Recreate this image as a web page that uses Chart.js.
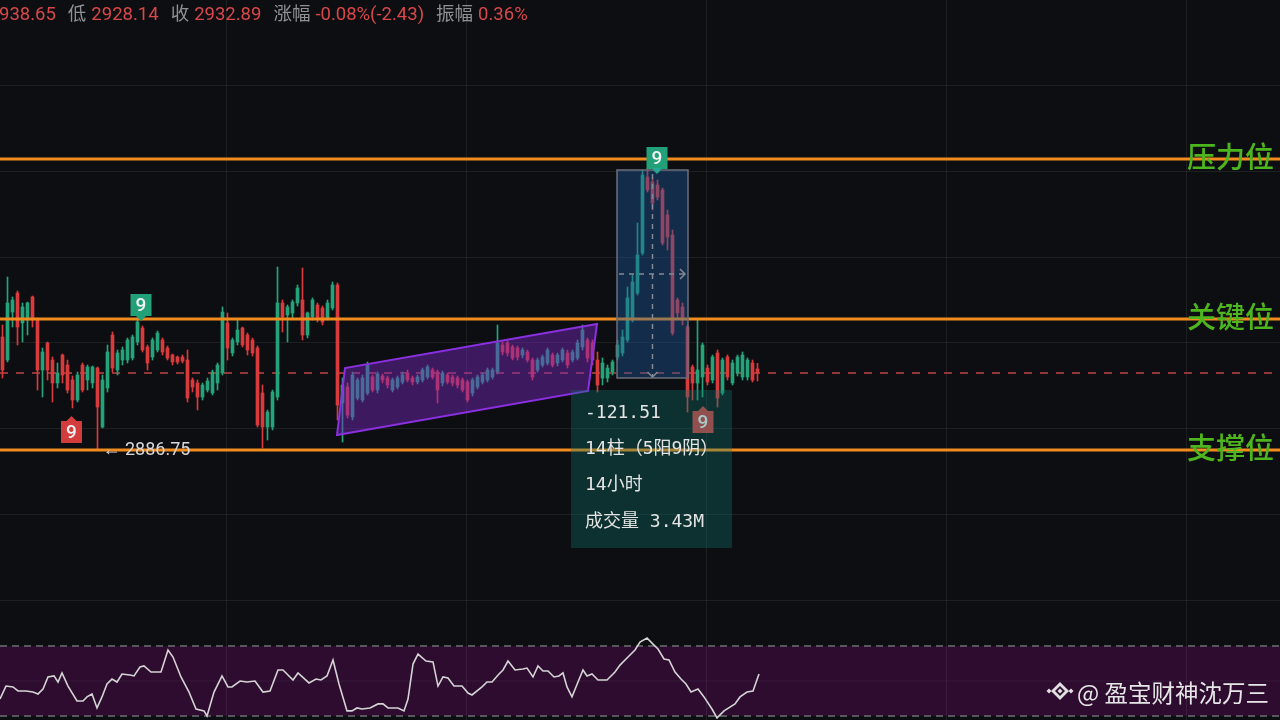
<!DOCTYPE html>
<html>
<head>
<meta charset="utf-8">
<script src="https://cdn.jsdelivr.net/npm/chart.js@4.4.1/dist/chart.umd.min.js"></script>
<style>
html,body{margin:0;padding:0;background:#0d0e11;overflow:hidden}
#wrap{position:relative;width:1280px;height:720px}
#main{position:absolute;left:0;top:0}
#rsi{position:absolute;left:0;top:605px}
</style>
</head>
<body>
<div id="wrap">
  <canvas id="main" width="1280" height="605"></canvas>
  <canvas id="rsi" width="1280" height="115"></canvas>
</div>
<script>
// hourly candles
const opens = [2954.5,2940.7,2969.5,2980.9,2962.9,2964.7,2978.5,2964.7,2934.7,2950.9,
  2940.7,2926.9,2943.7,2937.7,2928.7,2916.7,2937.7,2928.7,2926.9,2935.9,
  2900.5,2923.9,2955.7,2934.7,2940.7,2940.7,2941.9,2951.5,2959.9,2948.5,
  2942.5,2946.7,2952.7,2947.9,2943.7,2942.5,2942.5,2940.7,2928.7,2926.9,
  2918.5,2922.7,2920.9,2926.9,2932.9,2962.9,2944.9,2951.5,2959.9,2955.7,
  2952.7,2947.9,2920.9,2900.5,2900.5,2918.5,2974.9,2967.7,2968.9,2974.9,
  2976.7,2955.7,2966.5,2973.7,2971.9,2965.9,2971.9,2985.7,2914.9,2924.5,
  2906.5,2917.9,2916.7,2920.9,2930.5,2922.7,2931.1,2929.9,2922.7,2924.5,
  2927.5,2932.9,2929.9,2927.5,2928.7,2930.5,2934.7,2933.5,2926.9,2931.7,
  2930.5,2929.9,2928.7,2927.5,2920.9,2924.5,2927.5,2928.7,2930.5,2933.5,
  2949.7,2950.9,2948.5,2947.9,2943.7,2945.5,2940.7,2934.7,2937.7,2938.9,
  2943.7,2938.9,2940.7,2944.9,2940.7,2941.9,2948.5,2952.7,2950.9,2940.7,
  2929.9,2929.9,2933.5,2942.5,2944.9,2952.7,2964.7,2980.9,3004.9,3050.5,
  3047.5,3045.7,3042.7,3027.7,3015.7,2976.7,2972.5,2960.5,2936.5,2926.9,
  2930.5,2935.9,2928.7,2944.9,2920.9,2942.5,2926.9,2932.9,2930.5,2930.5,
  2938.9,2935.32];
const highs = [2961.7,2990.5,2978.5,2982.1,2974.9,2975.5,2979.1,2965.9,2947.9,2951.5,
  2942.5,2938.9,2944.3,2940.7,2931.1,2933.5,2938.9,2937.7,2937.1,2936.5,
  2931.7,2949.7,2957.5,2946.7,2948.5,2953.9,2955.7,2965.9,2961.1,2949.7,
  2953.9,2958.1,2953.9,2949.1,2944.3,2943.1,2943.7,2946.7,2929.9,2928.7,
  2926.9,2929.9,2934.7,2938.9,2972.5,2968.9,2953.9,2964.7,2960.5,2956.9,
  2953.9,2949.1,2925.7,2910.7,2922.7,2996.5,2976.7,2973.7,2976.7,2985.7,
  2995.9,2969.5,2977.9,2974.9,2973.1,2976.7,2987.5,2986.9,2929.9,2926.9,
  2933.5,2929.9,2931.7,2939.5,2931.7,2933.5,2932.3,2931.1,2929.9,2931.1,
  2933.5,2934.7,2931.1,2931.7,2935.9,2937.7,2935.9,2934.7,2934.1,2932.9,
  2931.7,2931.1,2929.9,2928.7,2929.9,2931.7,2932.9,2935.9,2935.9,2961.7,
  2951.5,2952.1,2949.7,2949.1,2947.9,2946.7,2941.9,2941.9,2943.7,2947.9,
  2944.9,2944.9,2947.9,2946.7,2946.7,2952.7,2961.7,2953.9,2952.7,2945.5,
  2941.9,2937.7,2940.7,2952.7,2958.7,2984.5,2991.7,3022.9,3054.7,3055.9,
  3049.9,3048.7,3043.9,3030.7,3018.7,2977.9,2974.9,2961.7,2937.7,2964.7,
  2950.9,2937.7,2943.7,2946.7,2941.9,2943.7,2940.7,2943.7,2945.5,2941.9,
  2940.7,2938.65];
const lows = [2929.9,2939.5,2960.5,2949.7,2951.5,2955.7,2960.5,2922.7,2918.5,2928.7,
  2915.5,2923.9,2926.9,2920.9,2911.9,2915.5,2921.5,2922.7,2923.9,2886.75,
  2899.9,2921.5,2933.5,2931.7,2937.7,2938.9,2940.7,2949.7,2945.5,2934.7,
  2940.7,2945.5,2943.7,2940.7,2937.7,2938.3,2938.9,2915.5,2921.5,2910.7,
  2916.7,2921.5,2919.7,2922.7,2931.7,2940.7,2943.1,2949.7,2948.5,2943.7,
  2943.1,2900.5,2887.9,2892.7,2898.7,2916.7,2957.5,2951.5,2965.9,2973.1,
  2952.7,2953.9,2964.7,2963.5,2961.7,2964.7,2970.7,2904.7,2891.5,2905.9,
  2904.7,2916.7,2915.5,2919.7,2921.5,2920.9,2926.9,2923.9,2921.5,2923.3,
  2926.3,2927.5,2925.7,2926.3,2927.5,2929.3,2929.3,2914.9,2925.1,2926.3,
  2925.1,2923.9,2921.5,2915.5,2919.1,2923.3,2926.3,2927.5,2929.3,2932.3,
  2943.7,2943.1,2940.7,2940.7,2941.9,2939.5,2928.7,2933.5,2936.5,2937.7,
  2936.5,2937.1,2939.5,2935.9,2939.5,2940.7,2946.7,2939.5,2937.7,2921.5,
  2925.7,2927.5,2931.7,2940.7,2943.1,2951.5,2963.5,2979.7,3003.7,3041.5,
  3030.7,3036.7,3009.7,3006.7,2955.7,2965.9,2961.7,2909.5,2916.7,2916.7,
  2918.5,2925.7,2926.9,2912.5,2919.7,2928.7,2925.7,2931.1,2928.7,2928.7,
  2927.5,2928.14];
const closes = [2934.7,2974.9,2976.7,2960.5,2972.5,2974.9,2964.7,2934.7,2945.5,2934.7,
  2926.9,2932.9,2931.7,2922.7,2916.7,2931.7,2922.7,2936.5,2936.5,2912.5,
  2928.7,2945.5,2935.9,2944.9,2946.7,2952.7,2954.5,2963.5,2946.7,2938.9,
  2952.7,2956.9,2945.5,2941.9,2939.5,2939.5,2940.1,2917.9,2924.5,2918.5,
  2925.7,2928.1,2933.5,2937.7,2969.5,2947.9,2952.7,2958.7,2949.7,2946.7,
  2944.9,2901.7,2900.5,2909.5,2921.5,2974.9,2966.5,2972.5,2975.5,2983.9,
  2955.7,2968.9,2976.7,2965.9,2963.5,2974.9,2985.7,2913.7,2925.7,2907.7,
  2931.7,2928.7,2929.9,2937.7,2922.7,2932.3,2928.7,2925.7,2928.7,2929.9,
  2931.7,2928.7,2927.5,2930.5,2934.7,2936.5,2930.5,2922.7,2932.9,2927.5,
  2926.9,2925.7,2922.7,2916.7,2928.7,2930.5,2931.7,2934.7,2934.7,2950.9,
  2945.5,2944.9,2941.9,2942.5,2946.7,2940.7,2930.5,2940.7,2942.5,2946.7,
  2937.7,2943.7,2946.7,2937.7,2945.5,2950.9,2958.7,2941.9,2940.7,2925.7,
  2938.9,2935.9,2939.5,2949.7,2954.5,2977.9,2987.5,3003.7,3051.7,3042.7,
  3034.9,3038.5,3010.9,3014.5,2956.9,2968.9,2964.7,2918.5,2926.9,2934.7,
  2949.7,2927.5,2942.5,2917.9,2940.7,2930.5,2938.9,2942.5,2943.7,2940.7,
  2928.7,2932.89];

// RSI line (bar index, value)
const rsiIdx = [-0.5,0.7,2.1,3.1,4.7,6.1,7.1,8.1,9.1,10.3,11.1,11.9,13.1,14.9,16.1,16.9,17.9,18.9,19.9,20.9,
  21.9,22.9,23.9,25.5,26.3,27.5,28.3,29.7,31.7,33.1,34.1,35.7,37.3,38.7,40.3,40.9,42.3,43.9,45.1,45.9,
  47.5,48.9,50.5,52.1,53.5,55.1,56.1,58.1,59.1,61.3,62.7,63.7,64.9,66.1,67.3,68.9,69.9,70.9,71.9,73.5,
  75.1,76.1,77.1,79.1,80.3,81.1,82.1,83.1,84.7,86.1,87.1,88.1,89.1,90.3,91.9,93.1,93.9,95.9,96.9,97.9,
  99.3,100.1,101.1,102.5,104.1,104.9,106.1,107.1,108.1,109.1,110.3,111.3,112.1,112.9,113.9,115.1,116.1,116.9,117.9,119.1,
  120.9,122.5,123.5,125.1,126.5,127.5,128.9,130.1,131.1,132.3,133.3,134.5,135.7,136.7,137.7,139.1,140.3,141.9,142.9,144.3,
  146.5,147.5,148.9,150.1,151.3];
const rsiVals = [39.7,47.1,46.6,44.3,44.3,43.7,42.6,45.4,52.3,52.9,49.4,54.6,47.1,38.6,38.6,40.9,42.6,34.6,40.9,48.3,
  51.1,49.4,54.0,53.4,52.9,58.0,58.6,55.1,55.1,67.7,63.7,52.3,43.7,34.0,32.9,30.0,43.7,52.9,46.6,46.6,
  50.0,49.4,50.0,43.7,44.3,56.3,56.3,50.6,54.6,48.9,51.1,50.6,52.9,62.0,48.3,32.9,32.9,34.6,34.0,34.6,
  36.9,36.9,34.6,34.6,32.9,39.7,59.7,65.4,61.4,60.9,47.1,52.3,51.7,47.1,47.1,43.1,42.0,46.6,49.4,49.4,
  54.0,56.3,61.4,56.3,56.9,57.4,52.3,58.6,55.7,55.7,52.3,52.9,54.6,46.6,40.9,49.4,56.3,52.9,54.0,50.6,
  50.6,55.1,59.1,63.7,67.7,72.3,74.6,71.1,68.3,62.6,62.0,55.1,51.1,48.3,43.7,45.4,40.9,34.0,28.9,32.9,
  36.9,40.9,43.7,44.3,54.0];
const rsiBands = [70, 50, 30];

const gridIdx = [44.7, 92.7, 140.7, 188.7, 236.7];
const gridPrices = [3105.4, 3054.0, 3002.4, 2950.9, 2899.5, 2848.0, 2796.5];

const levelPrices = [3061.3, 2965.3, 2886.7];
const levelNames = ['压力位', '关键位', '支撑位'];
const lastClose = 2932.89;

const channelIdx = [66.9, 68.5, 118.9, 117.1];
const channelPrices = [2895.7, 2935.9, 2962.3, 2922.1];

const measureIdx = [122.9, 137.1];
const measurePrices = [3054.7, 2929.9];
const infoIdx = [113.7, 145.9];
const infoPrices = [2922.7, 2827.9];
const infoLines = ['-121.51', '14柱（5阳9阴）', '14小时', '成交量 3.43M'];

// TD "9" markers: index, price, up(green)/down(red)
const nineIdx = [27.7, 13.8, 130.9, 140.1];
const ninePrices = [2973.7, 2897.5, 3061.9, 2903.5];
const nineUp = [true, false, true, false];

const lowIdx = 19, lowLabel = '← 2886.75';
const headerParts = ['938.65','低','2928.14','收','2932.89','涨幅','-0.08%(-2.43)','振幅','0.36%'];
const watermark = '@ 盈宝财神沈万三';

const UP = '#25a37b', DOWN = '#d93b3d', ORANGE = '#f28b1e', LABEL_GREEN = '#4db51e';
const candleColors = closes.map((c, i) => c >= opens[i] ? UP : DOWN);
const bars = closes.map((_, i) => i);

function xAxis(){
  return {type:'linear', min:-0.5, max:255.5, offset:false,
    ticks:{display:false}, border:{display:false},
    grid:{color:'rgba(255,255,255,0.07)', drawTicks:false, offset:false},
    afterBuildTicks(s){ s.ticks = gridIdx.map(v => ({value:v})); }};
}

function nineBadge(ctx, x, y, up){
  const w = 21, h = 22;
  ctx.fillStyle = up ? '#22a078' : '#d23c3c';
  ctx.beginPath();
  ctx.rect(x - w/2, y - h/2, w, h);
  if (up) {
    ctx.moveTo(x - 5, y + h/2); ctx.lineTo(x + 5, y + h/2); ctx.lineTo(x, y + h/2 + 5);
  } else {
    ctx.moveTo(x - 5, y - h/2); ctx.lineTo(x + 5, y - h/2); ctx.lineTo(x, y - h/2 - 5);
  }
  ctx.fill();
  ctx.fillStyle = '#f2f2f2';
  ctx.font = '500 19px Roboto, sans-serif';
  ctx.textAlign = 'center'; ctx.textBaseline = 'middle';
  ctx.fillText('9', x, y + 1);
}

const overlay = {
  id:'overlay',
  beforeDraw(chart){
    const c = chart.ctx;
    c.save(); c.fillStyle = '#0d0e11'; c.fillRect(0, 0, chart.width, chart.height); c.restore();
  },
  beforeDatasetsDraw(chart){
    const c = chart.ctx, y = chart.scales.y.getPixelForValue(lastClose);
    c.save();
    c.strokeStyle = '#933638'; c.lineWidth = 2; c.setLineDash([8, 8]);
    c.beginPath(); c.moveTo(0, y); c.lineTo(chart.width, y); c.stroke();
    c.restore();
  },
  afterDatasetsDraw(chart){
    const c = chart.ctx, xs = chart.scales.x, ys = chart.scales.y;
    const px = v => xs.getPixelForValue(v), py = v => ys.getPixelForValue(v);
    c.save();

    // rising channel
    c.beginPath();
    channelIdx.forEach((v, i) => { const X = px(v), Y = py(channelPrices[i]); i ? c.lineTo(X, Y) : c.moveTo(X, Y); });
    c.closePath();
    c.fillStyle = 'rgba(120,40,190,0.45)'; c.fill();
    c.strokeStyle = '#8a30e0'; c.lineWidth = 2; c.stroke();

    // key levels
    c.strokeStyle = ORANGE; c.lineWidth = 3;
    levelPrices.forEach(p => { const Y = py(p); c.beginPath(); c.moveTo(0, Y); c.lineTo(chart.width, Y); c.stroke(); });

    // measure box
    const mx0 = px(measureIdx[0]), mx1 = px(measureIdx[1]);
    const my0 = py(measurePrices[0]), my1 = py(measurePrices[1]);
    c.fillStyle = 'rgba(30,90,160,0.4)'; c.fillRect(mx0, my0, mx1 - mx0, my1 - my0);
    c.strokeStyle = '#6b6f78'; c.lineWidth = 1.5; c.strokeRect(mx0, my0, mx1 - mx0, my1 - my0);
    const mcx = (mx0 + mx1) / 2, mcy = (my0 + my1) / 2;
    c.strokeStyle = '#858993'; c.setLineDash([5, 5]);
    c.beginPath(); c.moveTo(mcx, my0 + 4); c.lineTo(mcx, my1 - 2); c.moveTo(mx0 + 2, mcy); c.lineTo(mx1 - 2, mcy); c.stroke();
    c.setLineDash([]);
    c.beginPath(); c.moveTo(mcx - 5, my1 - 6); c.lineTo(mcx, my1 - 1); c.lineTo(mcx + 5, my1 - 6);
    c.moveTo(mx1 - 8, mcy - 5); c.lineTo(mx1 - 3, mcy); c.lineTo(mx1 - 8, mcy + 5); c.stroke();

    // TD nines
    nineIdx.forEach((v, i) => nineBadge(c, px(v), py(ninePrices[i]), nineUp[i]));
    c.fillStyle = '#2aa5a0';
    c.beginPath(); const tx = px(nineIdx[2]), tY = py(measurePrices[0]);
    c.moveTo(tx - 4, tY - 2); c.lineTo(tx + 4, tY - 2); c.lineTo(tx, tY + 3); c.fill();

    // info box
    const ix0 = px(infoIdx[0]), ix1 = px(infoIdx[1]), iy0 = py(infoPrices[0]), iy1 = py(infoPrices[1]);
    c.fillStyle = 'rgba(13,122,111,0.33)'; c.fillRect(ix0, iy0, ix1 - ix0, iy1 - iy0);
    c.fillStyle = '#e4e4e4'; c.font = '18px "DejaVu Sans Mono", "Noto Sans CJK SC", monospace';
    c.textAlign = 'left'; c.textBaseline = 'middle';
    infoLines.forEach((t, i) => c.fillText(t, ix0 + 14, iy0 + 23 + i * 36.3));

    // level labels
    c.font = '500 29px "Noto Sans CJK SC", sans-serif'; c.textAlign = 'right'; c.fillStyle = LABEL_GREEN;
    levelPrices.forEach((p, i) => c.fillText(levelNames[i], 1274, py(p) - 2));

    // lowest low marker
    c.font = '18px Roboto, sans-serif'; c.textAlign = 'left'; c.fillStyle = '#d8d8d8';
    c.fillText(lowLabel, px(lowIdx) + 5, py(lows[lowIdx]) + 1);

    // header row
    c.font = '18.5px Roboto, "Noto Sans CJK SC", sans-serif';
    let hx = -1;
    headerParts.forEach((t, i) => {
      c.fillStyle = i % 2 === 0 ? '#d8474a' : '#8e9096';
      c.fillText(t, hx, 15);
      hx += c.measureText(t).width + (i % 2 === 0 ? 12 : 5);
    });
    c.restore();
  }
};

new Chart(document.getElementById('main'), {
  type:'bar',
  data:{datasets:[
    {data:bars.map(i => ({x:i, y:[lows[i], highs[i]]})), backgroundColor:candleColors, barThickness:1, grouped:false},
    {data:bars.map(i => ({x:i, y:[opens[i], closes[i]]})), backgroundColor:candleColors, barThickness:3, minBarLength:1, grouped:false}
  ]},
  options:{
    responsive:false, animation:false, devicePixelRatio:1,
    layout:{padding:0},
    plugins:{legend:{display:false}, tooltip:{enabled:false}},
    scales:{
      x:xAxis(),
      y:{type:'linear', min:2793.7, max:3156.7,
        ticks:{display:false}, border:{display:false},
        grid:{color:'rgba(255,255,255,0.07)', drawTicks:false},
        afterBuildTicks(s){ s.ticks = gridPrices.map(v => ({value:v})); }}
    }
  },
  plugins:[overlay]
});

const rsiPanel = {
  id:'rsiPanel',
  beforeDraw(chart){
    const c = chart.ctx, ys = chart.scales.y;
    c.save();
    c.fillStyle = '#0d0e11'; c.fillRect(0, 0, chart.width, chart.height);
    const top = ys.getPixelForValue(rsiBands[0]), bot = ys.getPixelForValue(rsiBands[2]);
    c.fillStyle = '#2d0c2f'; c.fillRect(0, top, chart.width, bot - top);
    c.restore();
  },
  beforeDatasetsDraw(chart){
    const c = chart.ctx, ys = chart.scales.y;
    c.save();
    const mid = ys.getPixelForValue(rsiBands[1]);
    c.strokeStyle = 'rgba(255,255,255,0.06)'; c.lineWidth = 1;
    c.beginPath(); c.moveTo(0, mid); c.lineTo(chart.width, mid); c.stroke();
    c.strokeStyle = '#56565c'; c.lineWidth = 2; c.setLineDash([7, 5]);
    [rsiBands[0], rsiBands[2]].forEach(v => {
      const Y = ys.getPixelForValue(v); c.beginPath(); c.moveTo(0, Y); c.lineTo(chart.width, Y); c.stroke();
    });
    c.restore();
  },
  afterDatasetsDraw(chart){
    const c = chart.ctx;
    c.save();
    // small diamond logo
    const lx = 1060, ly = 86;
    c.fillStyle = '#e0e0e0';
    const dia = (x, y, r) => { c.beginPath(); c.moveTo(x, y - r); c.lineTo(x + r, y); c.lineTo(x, y + r); c.lineTo(x - r, y); c.closePath(); c.fill(); };
    dia(lx, ly, 9);
    c.fillStyle = '#2d0c2f'; dia(lx, ly, 5);
    c.fillStyle = '#e0e0e0'; dia(lx, ly, 2.5);
    dia(lx - 11, ly, 2.5); dia(lx + 11, ly, 2.5);
    c.font = '23.5px "Noto Sans CJK SC", sans-serif'; c.textAlign = 'left'; c.textBaseline = 'middle';
    c.fillStyle = '#e6e6e6';
    c.fillText(watermark, 1077, ly + 2);
    c.restore();
  }
};

new Chart(document.getElementById('rsi'), {
  type:'line',
  data:{datasets:[{data:rsiIdx.map((x, i) => ({x, y:rsiVals[i]})), borderColor:'#d4d4d4', borderWidth:1.6, pointRadius:0, tension:0}]},
  options:{
    responsive:false, animation:false, devicePixelRatio:1,
    layout:{padding:0},
    plugins:{legend:{display:false}, tooltip:{enabled:false}},
    scales:{
      x:xAxis(),
      y:{type:'linear', min:27.71, max:93.43, display:false}
    }
  },
  plugins:[rsiPanel]
});
</script>
</body>
</html>
